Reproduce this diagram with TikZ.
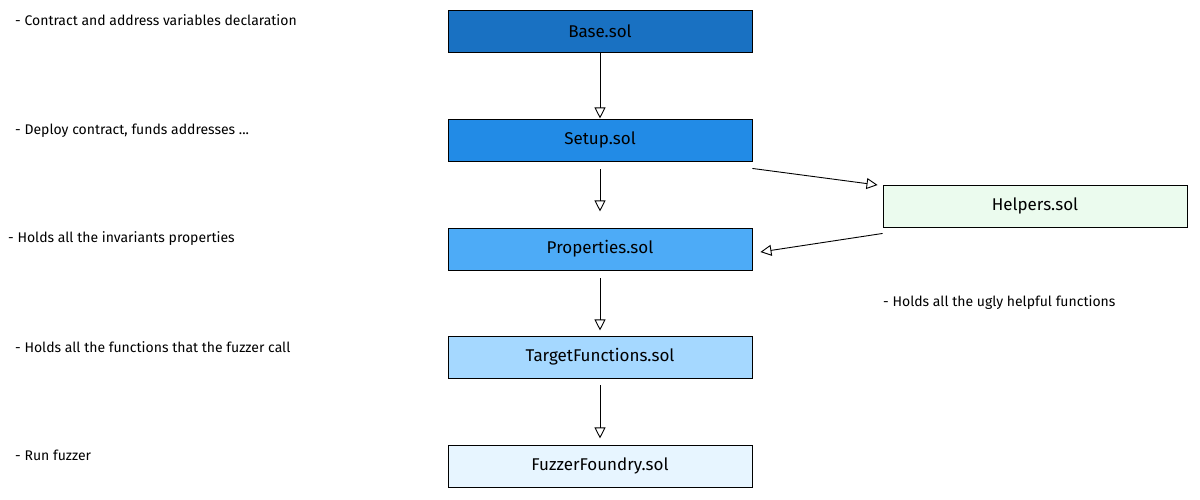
\documentclass[tikz,border=0pt]{standalone}
\usepackage{fontspec}
\setmainfont{Fira Sans}
\usetikzlibrary{arrows.meta}
\definecolor{c1}{HTML}{1971C2}
\definecolor{c2}{HTML}{228BE6}
\definecolor{c3}{HTML}{4DABF7}
\definecolor{c4}{HTML}{A5D8FF}
\definecolor{c5}{HTML}{E7F5FF}
\definecolor{c6}{HTML}{EBFBEE}
\begin{document}
\begin{tikzpicture}[x=1pt,y=-1pt,
  box/.style={draw=black,line width=0.9pt,minimum width=304pt,minimum height=42pt,inner sep=0pt,font=\fontsize{17}{20}\selectfont},
  note/.style={anchor=west,inner sep=0pt,font=\fontsize{14}{16}\selectfont},
  arr/.style={-{Triangle[open,length=11pt,width=11pt]},line width=0.9pt}]
\useasboundingbox (0,0) rectangle (1200,499);
\node[box,fill=c1] (base) at (600,31) {Base.sol};
\node[box,fill=c2] (setup) at (600,140) {Setup.sol};
\node[box,fill=c3] (prop) at (600,249) {Properties.sol};
\node[box,fill=c4] (tf) at (600,357) {TargetFunctions.sol};
\node[box,fill=c5] (fz) at (600,466) {FuzzerFoundry.sol};
\node[box,fill=c6] (help) at (1035,206) {Helpers.sol};
\node[note] (n1) at (15,20) {- Contract and address variables declaration};
\node[note] (n2) at (15,131) {- Deploy contract, funds addresses ...};
\node[note] (n3) at (8,239) {- Holds all the invariants properties};
\node[note] (n4) at (15,347) {- Holds all the functions that the fuzzer call};
\node[note] (n5) at (15,455) {- Run fuzzer};
\node[note] (n6) at (883,303) {- Holds all the ugly helpful functions};
\draw[arr] (base.south) -- ([yshift=-66pt]base.south);
\draw[arr] ([yshift=-8pt]setup.south) -- ([yshift=-50pt]setup.south);
\draw[arr] ([yshift=-8pt]prop.south) -- ([yshift=-60pt]prop.south);
\draw[arr] ([yshift=-7pt]tf.south) -- ([yshift=-60pt]tf.south);
\draw[arr] ([yshift=-7pt]setup.south east) -- ([xshift=-5pt,yshift=21pt]help.west);
\draw[arr] ([yshift=-6pt]help.south west) -- ([xshift=8pt,yshift=-3pt]prop.east);
\end{tikzpicture}
\end{document}
